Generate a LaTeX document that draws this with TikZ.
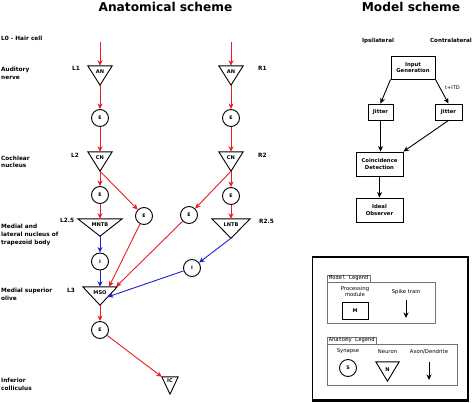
\documentclass[tikz,border=0pt]{standalone}
\usepackage{fontspec}
\setmainfont{DejaVu Sans}
\setmonofont{DejaVu Sans Mono}
\usetikzlibrary{arrows.meta,calc}
\definecolor{axred}{RGB}{232,30,36}
\definecolor{axblue}{RGB}{30,30,220}
\begin{document}
\begin{tikzpicture}[x=1pt,y=-1pt,
  every node/.style={inner sep=0pt},
  titletext/.style={font=\fontsize{12.2}{14}\selectfont\bfseries, anchor=base},
  lvl/.style={font=\fontsize{5.8}{7.7}\selectfont\bfseries, align=left, anchor=north west},
  lvltag/.style={font=\fontsize{5.8}{7.7}\selectfont\bfseries, anchor=base west},
  syn/.style={circle, draw, line width=0.9pt, minimum size=17pt, font=\fontsize{4.8}{5}\selectfont\bfseries},
  neu/.style={font=\fontsize{5.1}{5}\selectfont\bfseries, text height=7pt},
  tri/.style={draw, line width=0.9pt, line join=miter},
  ax/.style={line width=0.9pt, -{Stealth[length=5.5pt,width=5pt,inset=1.6pt]}},
  exc/.style={ax, axred},
  inh/.style={ax, axblue},
  mbox/.style={draw, line width=0.9pt, font=\fontsize{5.3}{6.5}\selectfont\bfseries, align=center},
  side/.style={font=\fontsize{5.6}{7}\selectfont\bfseries, anchor=base},
  leg/.style={font=\fontsize{5.3}{6.4}\selectfont, align=center},
  legtag/.style={draw=black!55, line width=0.5pt, font=\fontsize{5.4}{6}\ttfamily, anchor=south west, minimum height=7pt},
  legframe/.style={draw=black!55, line width=0.5pt},
]
\useasboundingbox (0,0) rectangle (474,402);

% titles
\node[titletext] (t1) at (165.5,11) {Anatomical scheme};
\node[titletext] (t2) at (411,11) {Model scheme};

% level labels (left)
\node[lvltag] (l0) at (1,40.7) {L0 - Hair cell};
\node[lvl] (lan) at (1,67.3) {Auditory\\nerve};
\node[lvl] (lcn) at (1,155.6) {Cochlear\\nucleus};
\node[lvl] (ltb) at (1,224.3) {Medial and\\lateral nucleus of\\trapezoid body};
\node[lvl] (lso) at (1,288.3) {Medial superior\\olive};
\node[lvl] (lic) at (1,378.3) {Inferior\\colliculus};

\node[lvltag] (tL1) at (72,70.7) {L1};
\node[lvltag] (tL2) at (71,157.7) {L2};
\node[lvltag] (tL25) at (60,222.3) {L2.5};
\node[lvltag] (tL3) at (67,292.3) {L3};
\node[lvltag] (tR1) at (258,70.7) {R1};
\node[lvltag] (tR2) at (258,157.7) {R2};
\node[lvltag] (tR25) at (259,223) {R2.5};

% neurons (triangle bounding boxes)
\node[neu, minimum width=24pt, text depth=12pt] (ANL) at (100,75.5) {AN};
\node[neu, minimum width=24pt, text depth=12pt] (CNL) at (100,161.5) {CN};
\node[neu, minimum width=44pt, text depth=10pt] (MNTB) at (100,227.5) {MNTB};
\node[neu, minimum width=34pt, text depth=11pt] (MSO) at (100,296) {MSO};
\node[neu, minimum width=16pt, text height=5.5pt, text depth=11.5pt] (IC) at (170,385.5) {IC};
\node[neu, minimum width=24pt, text depth=12pt] (ANR) at (231,75.5) {AN};
\node[neu, minimum width=24pt, text depth=12pt] (CNR) at (231,161.5) {CN};
\node[neu, minimum width=38pt, text depth=12pt] (LNTB) at (231,228.5) {LNTB};
\node[neu, minimum width=23pt, text height=9.5pt, text depth=9.5pt] (NL) at (387.5,371.5) {N};
\foreach \n in {ANL,CNL,MNTB,MSO,IC,ANR,CNR,LNTB,NL}
  \draw[tri] (\n.north west) -- (\n.north east) -- (\n.south) -- cycle;

% synapses
\node[syn] (EL1) at (100,118) {E};
\node[syn] (EL2) at (100,195) {E};
\node[syn] (EL3) at (144,216) {E};
\node[syn] (IL) at (100,261.5) {I};
\node[syn] (EL4) at (100,330) {E};
\node[syn] (ER1) at (231,118) {E};
\node[syn] (ER2) at (231,196) {E};
\node[syn] (ER3) at (189,215) {E};
\node[syn] (IR) at (192,268) {I};
\node[syn] (SL) at (348,368) {S};

% inputs
\coordinate (hcL) at (100,42);
\coordinate (hcR) at (231,42);

% connectors left
\draw[exc] (hcL) -- (ANL.north);
\draw[exc] (ANL.south) -- (EL1);
\draw[exc] (EL1) -- (CNL.north);
\draw[exc] (CNL.south) -- (EL2);
\draw[exc] (CNL.south) -- (EL3);
\draw[exc] (EL2) -- (MNTB.north);
\draw[inh] (MNTB.south) -- (IL);
\draw[inh] (IL) -- (MSO.north);
\draw[exc] (EL3) -- ([xshift=9pt]MSO.north);
\draw[exc] (ER3) -- ([xshift=16pt]MSO.north);
\draw[inh] (IR) -- ($(MSO.north east)!0.55!(MSO.south)$);
\draw[exc] (MSO.south) -- (EL4);
\draw[exc] (EL4) -- (IC.north west);

% connectors right
\draw[exc] (hcR) -- (ANR.north);
\draw[exc] (ANR.south) -- (ER1);
\draw[exc] (ER1) -- (CNR.north);
\draw[exc] (CNR.south) -- (ER2);
\draw[exc] (CNR.south) -- (ER3);
\draw[exc] (ER2) -- (LNTB.north);
\draw[inh] (LNTB.south) -- (IR);

% model scheme
\node[side] (ipsi) at (378,42) {Ipsilateral};
\node[side] (contra) at (451,42) {Contralateral};
\node[mbox, minimum width=44pt, minimum height=23pt] (IG) at (413,67.5) {Input\\Generation};
\node[mbox, minimum width=25pt, minimum height=16pt] (JL) at (380.5,112) {Jitter};
\node[mbox, minimum width=27pt, minimum height=16pt] (JR) at (448.5,112) {Jitter};
\node[mbox, minimum width=47pt, minimum height=24pt] (CD) at (379.5,164) {Coincidence\\Detection};
\node[mbox, minimum width=47pt, minimum height=24pt] (IO) at (379.5,210) {Ideal\\Observer};
\node[font=\fontsize{5}{6}\selectfont] (itd) at (452.5,88) {t+ITD};
\draw[ax] (IG.south west) -- (JL.north);
\draw[ax] (IG.south east) -- (JR.north);
\draw[ax] (JL.south) -- (JL.south |- CD.north);
\draw[ax] (JR.south) -- (CD.north east);
\draw[ax] (CD) -- (IO);

% legend
\draw[line width=1.2pt] (312.5,257) rectangle (468,400);
\draw[line width=2.4pt] (311.9,400.6) -- (468.6,400.6);
\draw[legframe] (327,282) rectangle (435,323);
\node[legtag, minimum width=43pt] (mleg) at (327,282) {Model Legend};
\node[leg] (pm) at (355,291.5) {Processing\\module};
\node[mbox, minimum width=26pt, minimum height=17pt, font=\fontsize{5}{5}\selectfont\bfseries] (Mbox) at (355,310.5) {M};
\node[leg] (st) at (406,292) {Spike train};
\coordinate (sp1) at (406,300);
\coordinate (sp2) at (406,318);
\draw[ax] (sp1) -- (sp2);

\draw[legframe] (327,344) rectangle (457,385);
\node[legtag, minimum width=49pt] (aleg) at (327,344) {Anatomy Legend};
\node[leg] (syl) at (348,351.5) {Synapse};
\node[leg] (nel) at (387.5,351.5) {Neuron};
\node[leg] (axl) at (429,351.5) {Axon/Dendrite};
\coordinate (ad1) at (429,362);
\coordinate (ad2) at (429,380);
\draw[ax] (ad1) -- (ad2);
\end{tikzpicture}
\end{document}
